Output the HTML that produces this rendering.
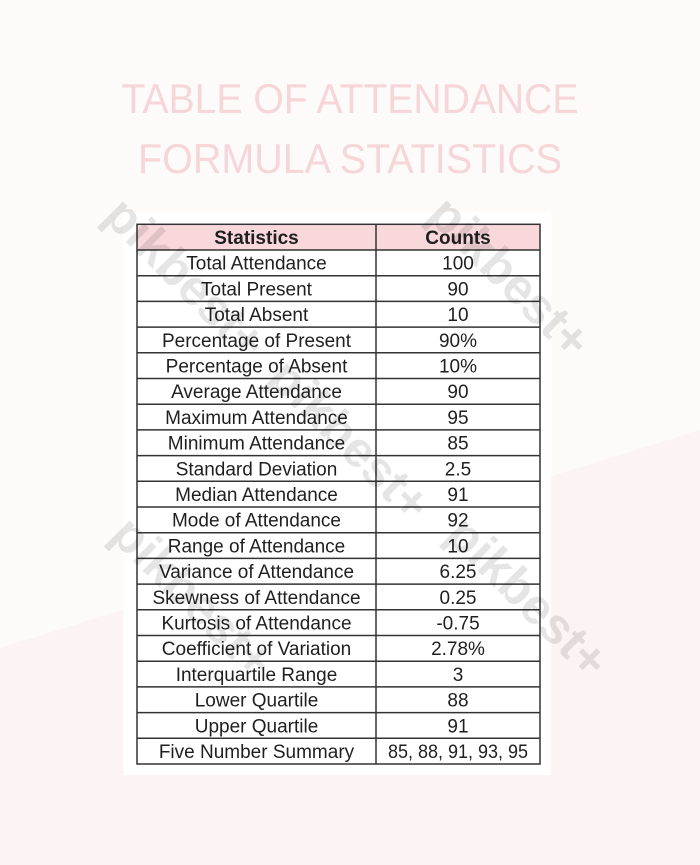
<!DOCTYPE html>
<html>
<head>
<meta charset="utf-8">
<style>
  html,body{margin:0;padding:0;background:#fdfbfa;}
  svg{display:block;}
  .t{font-family:"Liberation Sans","Noto Sans CJK SC",sans-serif;font-size:19px;fill:#1f1f1f;text-anchor:middle;}
  .h{font-weight:bold;}
  .wm{font-family:"Liberation Sans",sans-serif;font-weight:bold;font-size:50px;fill:rgba(0,0,0,0.10);text-anchor:middle;}
</style>
</head>
<body>
<svg width="700" height="865" viewBox="0 0 700 865" xmlns="http://www.w3.org/2000/svg">
  <rect x="0" y="0" width="700" height="865" fill="#fdfbfa"/>
  <polygon points="0,648 700,430 700,865 0,865" fill="#fcf4f4"/>

  <!-- Title -->
  <text x="350" y="113" font-family="Liberation Sans, sans-serif" font-size="42" fill="#f6d6d8" text-anchor="middle" textLength="457" lengthAdjust="spacingAndGlyphs">TABLE OF ATTENDANCE</text>
  <text x="350" y="173" font-family="Liberation Sans, sans-serif" font-size="42" fill="#f6d6d8" text-anchor="middle" textLength="424" lengthAdjust="spacingAndGlyphs">FORMULA STATISTICS</text>

  <!-- Card -->
  <rect x="123" y="212" width="428" height="563" fill="#ffffff"/>

  <!-- Header fill -->
  <rect x="137" y="224.3" width="403" height="25.7" fill="#f9d8dc"/>

  <!-- Grid -->
  <g stroke="#333" stroke-width="1.5" fill="none">
    <rect x="137" y="224.3" width="403" height="539.7"/>
    <line x1="376" y1="224.3" x2="376" y2="764"/>
    <line x1="137" y1="250" x2="540" y2="250"/>
    <line x1="137" y1="275.7" x2="540" y2="275.7"/>
    <line x1="137" y1="301.4" x2="540" y2="301.4"/>
    <line x1="137" y1="327.1" x2="540" y2="327.1"/>
    <line x1="137" y1="352.8" x2="540" y2="352.8"/>
    <line x1="137" y1="378.5" x2="540" y2="378.5"/>
    <line x1="137" y1="404.2" x2="540" y2="404.2"/>
    <line x1="137" y1="429.9" x2="540" y2="429.9"/>
    <line x1="137" y1="455.6" x2="540" y2="455.6"/>
    <line x1="137" y1="481.3" x2="540" y2="481.3"/>
    <line x1="137" y1="507" x2="540" y2="507"/>
    <line x1="137" y1="532.7" x2="540" y2="532.7"/>
    <line x1="137" y1="558.4" x2="540" y2="558.4"/>
    <line x1="137" y1="584.1" x2="540" y2="584.1"/>
    <line x1="137" y1="609.8" x2="540" y2="609.8"/>
    <line x1="137" y1="635.5" x2="540" y2="635.5"/>
    <line x1="137" y1="661.2" x2="540" y2="661.2"/>
    <line x1="137" y1="686.9" x2="540" y2="686.9"/>
    <line x1="137" y1="712.6" x2="540" y2="712.6"/>
    <line x1="137" y1="738.3" x2="540" y2="738.3"/>
  </g>

  <!-- Header text -->
  <text class="t h" x="256.5" y="244">Statistics</text>
  <text class="t h" x="458" y="244">Counts</text>

  <!-- Rows -->
  <text class="t" x="256.5" y="269.7">Total Attendance</text><text class="t" x="458" y="269.7">100</text>
  <text class="t" x="256.5" y="295.4">Total Present</text><text class="t" x="458" y="295.4">90</text>
  <text class="t" x="256.5" y="321.1">Total Absent</text><text class="t" x="458" y="321.1">10</text>
  <text class="t" x="256.5" y="346.8">Percentage of Present</text><text class="t" x="458" y="346.8">90%</text>
  <text class="t" x="256.5" y="372.5">Percentage of Absent</text><text class="t" x="458" y="372.5">10%</text>
  <text class="t" x="256.5" y="398.2">Average Attendance</text><text class="t" x="458" y="398.2">90</text>
  <text class="t" x="256.5" y="423.9">Maximum Attendance</text><text class="t" x="458" y="423.9">95</text>
  <text class="t" x="256.5" y="449.6">Minimum Attendance</text><text class="t" x="458" y="449.6">85</text>
  <text class="t" x="256.5" y="475.3">Standard Deviation</text><text class="t" x="458" y="475.3">2.5</text>
  <text class="t" x="256.5" y="501">Median Attendance</text><text class="t" x="458" y="501">91</text>
  <text class="t" x="256.5" y="526.7">Mode of Attendance</text><text class="t" x="458" y="526.7">92</text>
  <text class="t" x="256.5" y="552.4">Range of Attendance</text><text class="t" x="458" y="552.4">10</text>
  <text class="t" x="256.5" y="578.1">Variance of Attendance</text><text class="t" x="458" y="578.1">6.25</text>
  <text class="t" x="256.5" y="603.8">Skewness of Attendance</text><text class="t" x="458" y="603.8">0.25</text>
  <text class="t" x="256.5" y="629.5">Kurtosis of Attendance</text><text class="t" x="458" y="629.5">-0.75</text>
  <text class="t" x="256.5" y="655.2">Coefficient of Variation</text><text class="t" x="458" y="655.2">2.78%</text>
  <text class="t" x="256.5" y="680.9">Interquartile Range</text><text class="t" x="458" y="680.9">3</text>
  <text class="t" x="256.5" y="706.6">Lower Quartile</text><text class="t" x="458" y="706.6">88</text>
  <text class="t" x="256.5" y="732.3">Upper Quartile</text><text class="t" x="458" y="732.3">91</text>
  <text class="t" x="256.5" y="758">Five Number Summary</text><text class="t" x="458" y="758" textLength="140" lengthAdjust="spacingAndGlyphs">85, 88, 91, 93, 95</text>

  <!-- Watermarks -->
  <g transform="translate(186,278) rotate(45)"><text class="wm" x="0" y="17">pikbest+</text></g>
  <g transform="translate(510,277) rotate(45)"><text class="wm" x="0" y="17">pikbest+</text></g>
  <g transform="translate(350,440) rotate(45)"><text class="wm" x="0" y="17">pikbest+</text></g>
  <g transform="translate(193,597) rotate(45)"><text class="wm" x="0" y="17">pikbest+</text></g>
  <g transform="translate(528,597) rotate(45)"><text class="wm" x="0" y="17">pikbest+</text></g>
</svg>
</body>
</html>
